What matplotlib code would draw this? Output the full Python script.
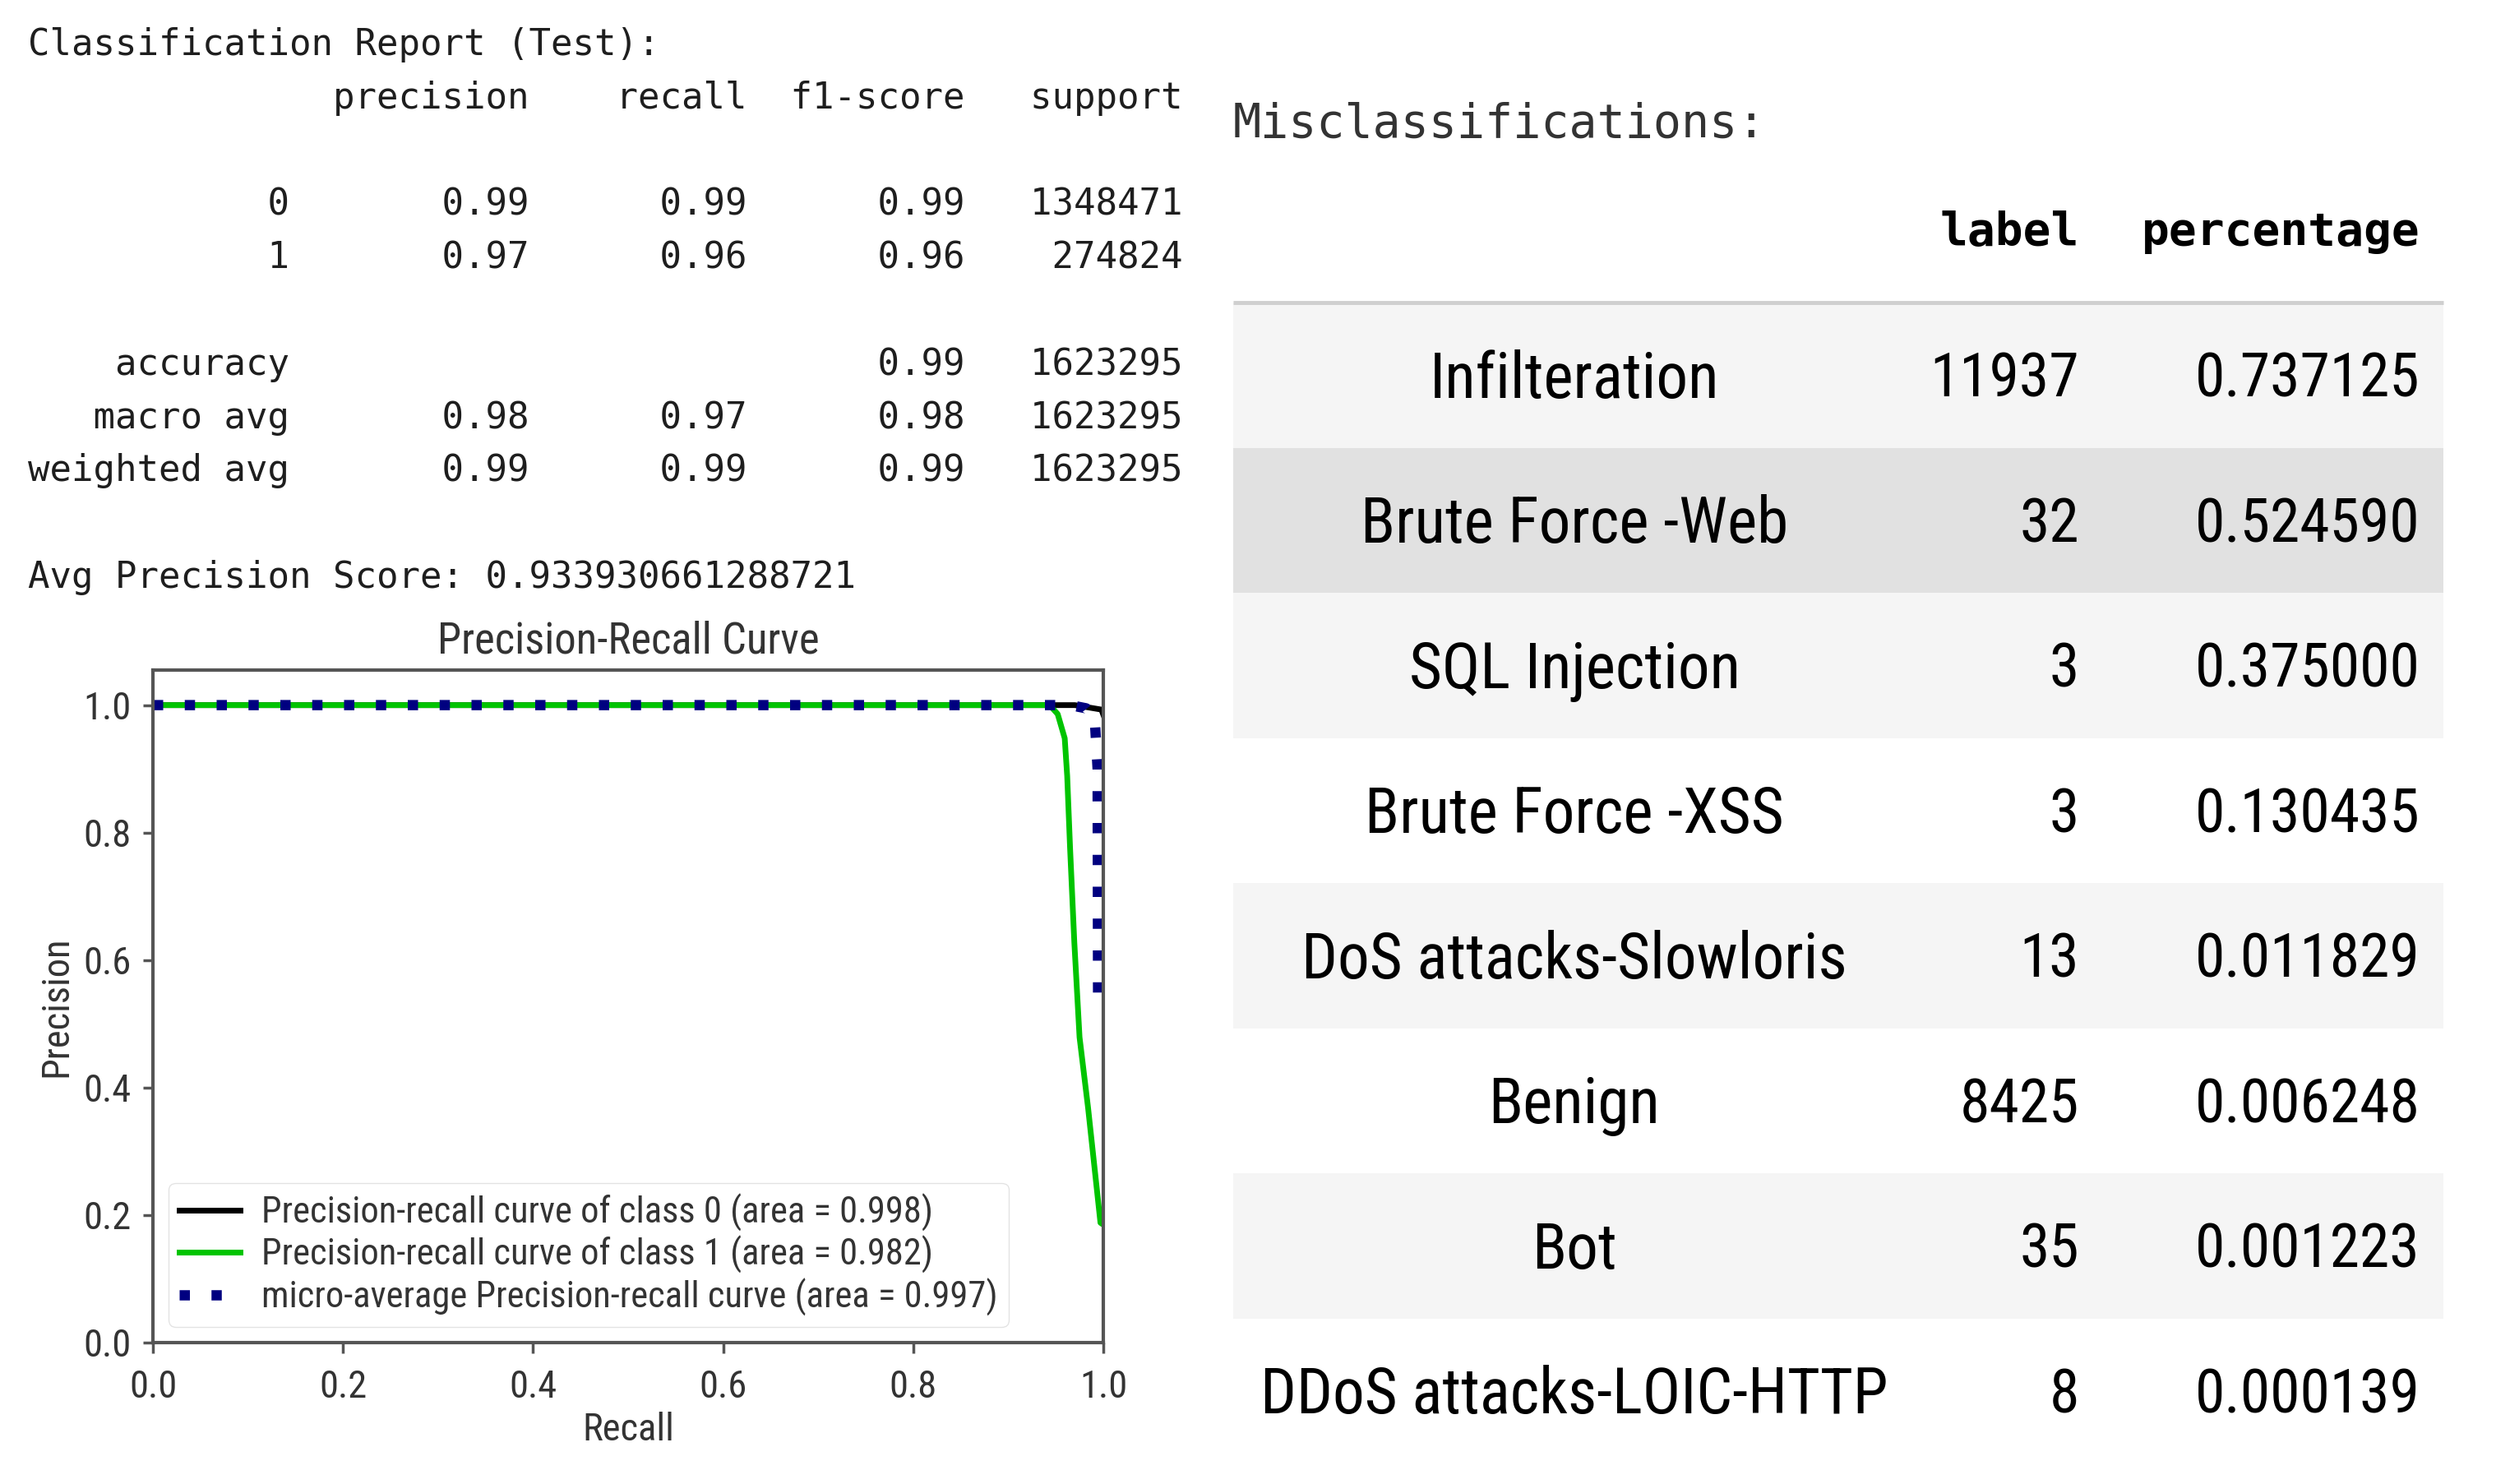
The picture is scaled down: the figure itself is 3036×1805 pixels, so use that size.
import matplotlib
matplotlib.use('Agg')
import matplotlib.pyplot as plt
from matplotlib import font_manager as fm
from matplotlib.patches import Rectangle

W, H, DPI = 3036, 1805, 100

# ---------------- data ----------------
report_title = 'Classification Report (Test):'
report_classes = ['0', '1']
report_precision = [0.99, 0.97]
report_recall = [0.99, 0.96]
report_f1 = [0.99, 0.96]
report_support = [1348471, 274824]
avg_names = ['macro avg', 'weighted avg']
avg_precision = [0.98, 0.99]
avg_recall = [0.97, 0.99]
avg_f1 = [0.98, 0.99]
accuracy_value = 0.99
total_support = 1623295
avg_precision_score = '0.933930661288721'

recall_c0 = [0.0, 0.5, 0.97, 0.998, 1.0]
prec_c0 = [1.0, 1.0, 1.0, 0.993, 0.985]
recall_c1 = [0.0, 0.5, 0.90, 0.9435, 0.952, 0.9594, 0.962, 0.965, 0.9695, 0.975, 0.984, 0.997, 1.0]
prec_c1 = [1.0, 1.0, 1.0, 1.0, 0.986, 0.948, 0.889, 0.777, 0.628, 0.479, 0.368, 0.188, 0.185]
recall_micro = [0.0, 0.5, 0.965, 0.982, 0.991, 0.994, 0.9945]
prec_micro = [1.0, 1.0, 1.0, 0.995, 0.978, 0.90, 0.54]
legend_labels = ['Precision-recall curve of class 0 (area = 0.998)',
                 'Precision-recall curve of class 1 (area = 0.982)',
                 'micro-average Precision-recall curve (area = 0.997)']
x_ticks = [0.0, 0.2, 0.4, 0.6, 0.8, 1.0]
y_ticks = [0.0, 0.2, 0.4, 0.6, 0.8, 1.0]

mis_title = 'Misclassifications:'
mis_columns = ['label', 'percentage']
mis_labels = ['Infilteration', 'Brute Force -Web', 'SQL Injection', 'Brute Force -XSS',
              'DoS attacks-Slowloris', 'Benign', 'Bot', 'DDoS attacks-LOIC-HTTP']
mis_counts = [11937, 32, 3, 3, 13, 8425, 35, 8]
mis_pct = [0.737125, 0.524590, 0.375000, 0.130435, 0.011829, 0.006248, 0.001223, 0.000139]


def pick(cands):
    for c in cands:
        try:
            fm.findfont(fm.FontProperties(family=c), fallback_to_default=False)
            return c
        except Exception:
            pass
    return 'DejaVu Sans'


NARROW = pick(['Liberation Sans Narrow', 'Roboto Condensed', 'DejaVu Sans'])
MONO = 'DejaVu Sans Mono'
plt.rcParams['font.family'] = [NARROW, 'DejaVu Sans']

fig = plt.figure(figsize=(W / DPI, H / DPI), dpi=DPI)
fig.patch.set_facecolor('white')

# background axes in pixel coordinates
bg = fig.add_axes([0, 0, 1, 1])
bg.set_xlim(0, W)
bg.set_ylim(H, 0)
bg.axis('off')

# ---------------- classification report text ----------------
rep_x = 34
base0 = 67
line_h = 64.8
rep_fs = 31.7
rep_col = '#1e1e1e'

lines = {}
lines[0] = report_title
lines[1] = ' ' * 13 + ''.join(' {:>9}'.format(h) for h in ['precision', 'recall', 'f1-score', 'support'])
for i, c in enumerate(report_classes):
    lines[3 + i] = '{:>12s} '.format(c) + ' {:>9.2f}'.format(report_precision[i]) + \
        ' {:>9.2f}'.format(report_recall[i]) + ' {:>9.2f}'.format(report_f1[i]) + \
        ' {:>9}'.format(report_support[i])
lines[6] = '{:>12s} '.format('accuracy') + ' {:>9}'.format('') * 2 + \
    ' {:>9.2f}'.format(accuracy_value) + ' {:>9}'.format(total_support)
for i, n in enumerate(avg_names):
    lines[7 + i] = '{:>12s} '.format(n) + ' {:>9.2f}'.format(avg_precision[i]) + \
        ' {:>9.2f}'.format(avg_recall[i]) + ' {:>9.2f}'.format(avg_f1[i]) + \
        ' {:>9}'.format(total_support)
lines[10] = 'Avg Precision Score: ' + avg_precision_score

for k, s in lines.items():
    bg.text(rep_x, base0 + line_h * k, s, family=MONO, fontsize=rep_fs,
            color=rep_col, ha='left', va='baseline')

# ---------------- misclassification table ----------------
tab_left, tab_right = 1500, 2972
hdr_line_y = 368
row_h = 176.5
lab_cx = 1915
cnt_rx = 2529
pct_rx = 2944
row_colors = ['#f5f5f5', '#e1e1e1', '#f5f5f5', '#ffffff',
              '#f5f5f5', '#ffffff', '#f5f5f5', '#ffffff']

bg.text(1500, 167, mis_title, family=MONO, fontsize=40.9, color='#333333',
        ha='left', va='baseline')
bg.text(cnt_rx, 298, mis_columns[0], family=MONO, fontsize=40.5, fontweight='bold',
        color='black', ha='right', va='baseline')
bg.text(pct_rx, 298, mis_columns[1], family=MONO, fontsize=40.5, fontweight='bold',
        color='black', ha='right', va='baseline')

for i in range(len(mis_labels)):
    y0 = hdr_line_y + row_h * i
    bg.add_patch(Rectangle((tab_left, y0), tab_right - tab_left, row_h,
                           facecolor=row_colors[i], edgecolor='none', zorder=0))
bg.plot([tab_left, tab_right], [hdr_line_y, hdr_line_y], color='#cfcfcf', lw=3.5,
        solid_capstyle='butt', zorder=1)

lab_fs = 55.5
num_fs = 53
for i, (lab, cnt, pct) in enumerate(zip(mis_labels, mis_counts, mis_pct)):
    yc = hdr_line_y + row_h * (i + 0.5)
    bg.text(lab_cx, yc + 0.358 * lab_fs * DPI / 72, lab, fontsize=lab_fs, color='black',
            ha='center', va='baseline')
    yb = yc + 0.358 * num_fs * DPI / 72
    bg.text(cnt_rx, yb, str(cnt), fontsize=num_fs, color='black', ha='right', va='baseline')
    bg.text(pct_rx, yb, '{:.6f}'.format(pct), fontsize=num_fs, color='black',
            ha='right', va='baseline')

# ---------------- precision-recall curve ----------------
ax_l, ax_r, ax_t, ax_b = 186, 1342, 815, 1633
ax = fig.add_axes([ax_l / W, 1 - ax_b / H, (ax_r - ax_l) / W, (ax_b - ax_t) / H])
ax.plot(recall_c0, prec_c0, color='black', lw=5, label=legend_labels[0])
ax.plot(recall_c1, prec_c1, color='#00c400', lw=5, label=legend_labels[1])
ax.plot(recall_micro, prec_micro, color='navy', lw=9, linestyle=(0, (1, 2.1)),
        label=legend_labels[2])
ax.set_xlim(0.0, 1.0)
ax.set_ylim(0.0, 1.055)
ax.set_xticks(x_ticks)
ax.set_yticks(y_ticks)
ax.set_xticklabels(['{:.1f}'.format(v) for v in x_ticks])
ax.set_yticklabels(['{:.1f}'.format(v) for v in y_ticks])
ax.tick_params(axis='both', labelsize=33.5, length=9, width=2.5, color='#555555',
               labelcolor='#333333')
ax.tick_params(axis='x', pad=14)
ax.tick_params(axis='y', pad=10)
for sp in ax.spines.values():
    sp.set_linewidth(3)
    sp.set_color('#555555')
ax.set_title('Precision-Recall Curve', fontsize=38, pad=15, color='#333333')
ax.set_xlabel('Recall', fontsize=33.5, labelpad=6, color='#333333')
ax.set_ylabel('Precision', fontsize=33.5, labelpad=8, color='#333333')
leg = ax.legend(loc='lower left', fontsize=32, handlelength=1.65, handletextpad=0.58,
                borderaxespad=0.43, borderpad=0.3, labelspacing=0.12, framealpha=0.8,
                edgecolor='#dddddd')
for t in leg.get_texts():
    t.set_color('#333333')

fig.savefig('out.png', dpi=DPI, facecolor='white')
